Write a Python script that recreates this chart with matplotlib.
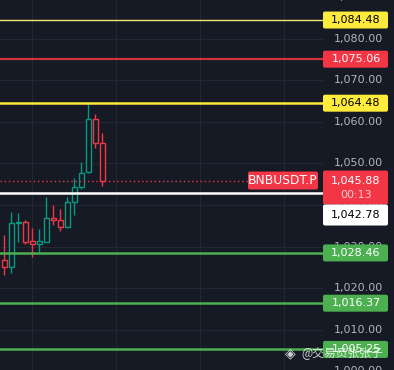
import matplotlib.pyplot as plt
from matplotlib.patches import FancyBboxPatch

BG = "#161a25"
UP = "#089981"
DOWN = "#f23645"

# candles (oldest -> newest)
opens = [1026.8, 1025.1, 1035.6, 1035.8, 1031.3, 1030.5, 1031.2, 1036.9, 1036.4, 1034.6, 1040.6, 1044.2, 1048.0, 1060.6, 1055.0]
closes = [1025.1, 1035.6, 1035.8, 1031.2, 1030.5, 1031.3, 1036.9, 1036.3, 1034.6, 1040.6, 1044.2, 1047.8, 1060.6, 1055.0, 1045.88]
highs = [1032.8, 1038.4, 1038.0, 1036.4, 1034.5, 1034.2, 1042.0, 1040.0, 1039.0, 1042.0, 1046.4, 1050.4, 1064.4, 1061.9, 1057.4]
lows = [1023.1, 1023.6, 1031.2, 1030.5, 1027.5, 1028.6, 1031.2, 1035.2, 1033.8, 1034.4, 1037.6, 1043.9, 1047.6, 1053.8, 1044.6]

# horizontal levels
level_prices = [1084.48, 1075.06, 1064.48, 1028.46, 1016.37, 1005.25]
level_labels = ["1,084.48", "1,075.06", "1,064.48", "1,028.46", "1,016.37", "1,005.25"]
support_price = 1042.78
support_label = "1,042.78"
last_price = 1045.88
last_label = "1,045.88"
countdown = "00:13"
symbol = "BNBUSDT.P"

tick_values = [1000, 1010, 1020, 1030, 1040, 1050, 1060, 1070, 1080, 1090]

# styles for the levels
level_colors = ["#f2e87a", "#d3313e", "#ffeb3b", "#4caf50", "#4caf50", "#4caf50"]
level_widths = [1.0, 1.6, 1.8, 1.8, 1.8, 1.8]
box_colors = ["#ffeb3b", DOWN, "#ffeb3b", "#4caf50", "#4caf50", "#4caf50"]
text_colors = ["black", "white", "black", "white", "white", "white"]

W, H = 394, 370
fig = plt.figure(figsize=(W / 100, H / 100), dpi=100, facecolor=BG)
ax = fig.add_axes([0, 0, 323 / W, 1])
ax.set_facecolor(BG)
for s in ax.spines.values():
    s.set_visible(False)
ax.set_xticks([])
ax.set_yticks([])
ax.set_xlim(-0.61, 45.5)
ax.set_ylim(1000.3, 1089.3)

# grid
for t in tick_values:
    ax.axhline(t, color="#232733", lw=0.8, zorder=0)
for gx in [4, 16, 28, 40]:
    ax.axvline(gx, color="#232733", lw=0.8, zorder=0)

# candles (hollow)
for i in range(len(opens)):
    c = UP if closes[i] >= opens[i] else DOWN
    ax.vlines(i, lows[i], highs[i], color=c, lw=1.0, zorder=2)
    lo, hi = min(opens[i], closes[i]), max(opens[i], closes[i])
    ax.bar(i, max(hi - lo, 0.15), bottom=lo, width=0.66, facecolor=BG,
           edgecolor=c, linewidth=1.0, zorder=3)

# level lines
for p, c, lw in zip(level_prices, level_colors, level_widths):
    ax.axhline(p, color=c, lw=lw, zorder=4)
ax.axhline(support_price, color="white", lw=1.8, zorder=4)
ax.plot([-0.61, 34.8], [last_price, last_price], color=DOWN, lw=1.0,
        ls=(0, (1, 2)), zorder=4)


def fig_y(price):
    y = ax.transData.transform((0, price))[1]
    return fig.transFigure.inverted().transform((0, y))[1]


def box(x0, y_top, w, h, fc):
    fig.add_artist(FancyBboxPatch((x0 / W, 1 - (y_top + h) / H), w / W, h / H,
                                  boxstyle="round,pad=0,rounding_size=0.005",
                                  transform=fig.transFigure, fc=fc, ec="none", zorder=5))


def label(x, y_img, s, color, size=8, **kw):
    fig.text(x / W, 1 - y_img / H, s, color=color, fontsize=size, ha="center",
             va="center", zorder=6, **kw)


# axis tick labels
for t in tick_values:
    fy = fig_y(t)
    fig.text(358 / W, fy, f"{t:,.2f}", color="#b2b5be", fontsize=8,
             ha="center", va="center", zorder=4)

# level boxes
for p, lab, bc, tc in zip(level_prices, level_labels, box_colors, text_colors):
    yc = (1 - fig_y(p)) * H
    box(323, yc - 8.5, 65, 17, bc)
    label(356, yc, lab, tc)

# last price box + countdown, support box stacked below
yc = (1 - fig_y(last_price)) * H
box(323, yc - 10, 65, 34, DOWN)
label(356, yc, last_label, "white")
label(356, yc + 14, countdown, "#ffc9cf")
box(323, yc + 24, 65, 21, "white")
label(356, yc + 34, support_label, "black")

# symbol tag
box(248, yc - 9, 70, 18, DOWN)
label(283, yc, symbol, "white", size=8.8)

# watermark
fig.text(285 / W, 1 - 353 / H, "◈", color="white", alpha=0.8,
         fontsize=10, ha="left", va="center", zorder=7)
fig.text(301 / W, 1 - 353 / H, "@交易员张张子", color="white", alpha=0.8,
         fontsize=8.5, ha="left", va="center", zorder=7,
         family=["Noto Sans CJK SC", "DejaVu Sans"])

fig.savefig("out.png", dpi=100, facecolor=BG)
